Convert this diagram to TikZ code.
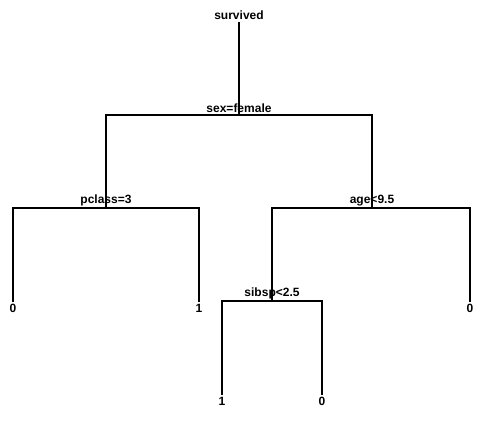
\documentclass[tikz,border=0pt]{standalone}
\usepackage{fontspec}
\setmainfont{Liberation Sans}
\begin{document}
\begin{tikzpicture}[x=1pt,y=-1pt,line width=2.6pt,
    every node/.style={font=\fontsize{12}{14}\selectfont\bfseries,inner sep=1pt},
    split/.style={anchor=south},
    leaf/.style={anchor=north}]
        \useasboundingbox (0,0) rectangle (489,425);
        % split points
        \coordinate (root) at (239,22);
        \coordinate (sex) at (239,115);
        \coordinate (pclass) at (106,208);
        \coordinate (age) at (372,208);
        \coordinate (sibsp) at (272,301);
        % labels
        \node[split] (lroot) at (root) {survived};
        \node[split] (lsex) at (sex) {sex=female};
        \node[split] (lpclass) at (pclass) {pclass=3};
        \node[split] (lage) at (age) {age<9.5};
        \node[split] (lsibsp) at (sibsp) {sibsp<2.5};
        % leaves
        \node[leaf] (p0) at (13,302) {0};
        \node[leaf] (p1) at (199,302) {1};
        \node[leaf] (a0) at (470,302) {0};
        \node[leaf] (s1) at (222,395) {1};
        \node[leaf] (s0) at (322,395) {0};
        % branches
        \draw (root) -- (sex);
        \draw (pclass) |- (sex) -| (age);
        \draw (p0.north) |- (pclass) -| (p1.north);
        \draw (sibsp) |- (age) -| (a0.north);
        \draw (s1.north) |- (sibsp) -| (s0.north);
    \end{tikzpicture}
\end{document}
